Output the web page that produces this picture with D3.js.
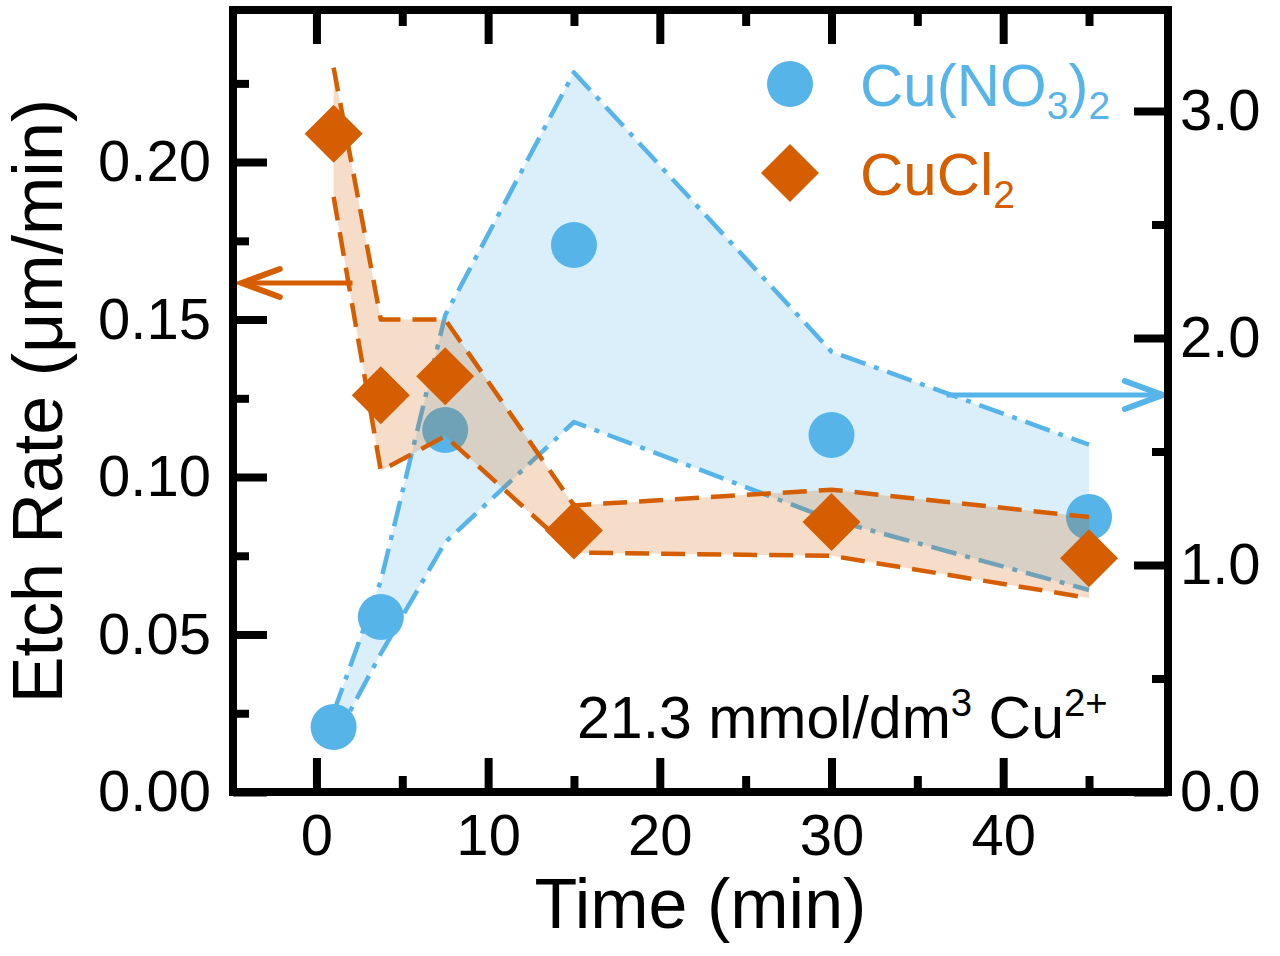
<!DOCTYPE html>
<html>
<head>
<meta charset="utf-8">
<script src="https://cdn.jsdelivr.net/npm/d3@7"></script>
<style>
  body { margin: 0; background: #fff; }
  svg { display: block; font-family: "Liberation Sans", Arial, sans-serif; }
</style>
</head>
<body>
<svg id="chart" width="1280" height="956"></svg>
<script>
// etch time (min)
var times = [1, 3.75, 7.5, 15, 30, 45];

// Cu(NO3)2 -> right axis
var nitrateRate = [0.286, 0.771, 1.595, 2.41, 1.573, 1.211];
var nitrateHigh = [0.35, 0.93, 2.10, 3.17, 1.94, 1.53];
var nitrateLow  = [0.22, 0.61, 1.10, 1.63, 1.20, 0.89];

// CuCl2 -> left axis
var chlorideRate = [0.209, 0.126, 0.132, 0.083, 0.0857, 0.0742];
var chlorideHigh = [0.230, 0.150, 0.150, 0.091, 0.096, 0.0873];
var chlorideLow  = [0.189, 0.102, 0.113, 0.076, 0.075, 0.0616];

var xTicks = [0, 10, 20, 30, 40];
var leftTicks = [0, 0.05, 0.10, 0.15, 0.20];
var rightTicks = [0, 1, 2, 3];

var blue = "#56B4E9", orange = "#D55E00";

var svg = d3.select("#chart"),
    plotL = 233, plotR = 1168, plotT = 10, plotB = 792;

var x = d3.scaleLinear().domain([-4.86, 49.6]).range([plotL, plotR]),
    yL = d3.scaleLinear().domain([0, 0.2483]).range([plotB, plotT]),
    yR = d3.scaleLinear().domain([0, 3.445]).range([plotB, plotT]);

var nitrate = times.map(function(t, i) {
  return {t: t, v: nitrateRate[i], hi: nitrateHigh[i], lo: nitrateLow[i]};
});
var chloride = times.map(function(t, i) {
  return {t: t, v: chlorideRate[i], hi: chlorideHigh[i], lo: chlorideLow[i]};
});

var curve = d3.curveLinear;

function band(g, data, y, color, dash) {
  g.append("path")
      .datum(data)
      .attr("fill", color)
      .attr("fill-opacity", 0.21)
      .attr("d", d3.area().curve(curve)
        .x(function(d) { return x(d.t); })
        .y0(function(d) { return y(d.lo); })
        .y1(function(d) { return y(d.hi); }));
  ["hi", "lo"].forEach(function(k) {
    g.append("path")
        .datum(data)
        .attr("fill", "none")
        .attr("stroke", color)
        .attr("stroke-width", 4.5)
        .attr("stroke-linejoin", "round")
        .attr("stroke-dasharray", dash)
        .attr("d", d3.line().curve(curve)
          .x(function(d) { return x(d.t); })
          .y(function(d) { return y(d[k]); }));
  });
}

var diamond = "M0,-29L29,0L0,29L-29,0Z";

// Cu(NO3)2 band + points
var gb = svg.append("g");
band(gb, nitrate, yR, blue, "26,9,5,9");
gb.selectAll("circle")
  .data(nitrate)
  .enter().append("circle")
    .attr("cx", function(d) { return x(d.t); })
    .attr("cy", function(d) { return yR(d.v); })
    .attr("r", 23)
    .attr("fill", blue);

// CuCl2 band + points
var go = svg.append("g");
band(go, chloride, yL, orange, "24,12");
go.selectAll(".dia")
  .data(chloride)
  .enter().append("path")
    .attr("class", "dia")
    .attr("transform", function(d) { return "translate(" + x(d.t) + "," + yL(d.v) + ")"; })
    .attr("d", diamond)
    .attr("fill", orange);

// axis arrows
function arrow(x0, x1, yy, color) {
  var dir = x1 < x0 ? 1 : -1;
  svg.append("line")
      .attr("x1", x0).attr("x2", x1).attr("y1", yy).attr("y2", yy)
      .attr("stroke", color).attr("stroke-width", 5);
  svg.append("path")
      .attr("d", "M" + (x1 + dir * 38) + "," + (yy - 14) + "L" + x1 + "," + yy + "L" + (x1 + dir * 38) + "," + (yy + 14))
      .attr("fill", "none").attr("stroke", color).attr("stroke-width", 6)
      .attr("stroke-linecap", "round");
}
arrow(x(2.1), x(-4.35), yL(0.1616), orange);
arrow(x(36.7), x(49.3), yR(1.749), blue);

// axes
function styleAxis(g) {
  g.select(".domain").remove();
  g.selectAll(".tick line").attr("stroke", "#000").attr("stroke-width", 8);
  g.selectAll(".tick text").attr("font-size", 58).attr("fill", "#000");
}
var minorX = d3.range(-5, 50, 5).filter(function(v) { return v % 10 !== 0 && v > -4.86; });
var minorL = [0.025, 0.075, 0.125, 0.175, 0.225];
var minorR = [0.5, 1.5, 2.5];

svg.append("g").attr("transform", "translate(0," + plotB + ")")
    .call(d3.axisBottom(x).tickValues(xTicks).tickFormat(d3.format("d")).tickSizeInner(-34).tickSizeOuter(0).tickPadding(22))
    .call(styleAxis);
svg.append("g").attr("transform", "translate(0," + plotB + ")")
    .call(d3.axisBottom(x).tickValues(minorX).tickFormat("").tickSizeInner(-16).tickSizeOuter(0))
    .call(styleAxis);
svg.append("g").attr("transform", "translate(0," + plotT + ")")
    .call(d3.axisTop(x).tickValues(xTicks).tickFormat("").tickSizeInner(-34).tickSizeOuter(0))
    .call(styleAxis);
svg.append("g").attr("transform", "translate(0," + plotT + ")")
    .call(d3.axisTop(x).tickValues(minorX).tickFormat("").tickSizeInner(-16).tickSizeOuter(0))
    .call(styleAxis);

svg.append("g").attr("transform", "translate(" + plotL + ",0)")
    .call(d3.axisLeft(yL).tickValues(leftTicks).tickFormat(d3.format(".2f")).tickSizeInner(-34).tickSizeOuter(0).tickPadding(22))
    .call(styleAxis);
svg.append("g").attr("transform", "translate(" + plotL + ",0)")
    .call(d3.axisLeft(yL).tickValues(minorL).tickFormat("").tickSizeInner(-16).tickSizeOuter(0))
    .call(styleAxis);
svg.append("g").attr("transform", "translate(" + plotR + ",0)")
    .call(d3.axisRight(yR).tickValues(rightTicks).tickFormat(d3.format(".1f")).tickSizeInner(-34).tickSizeOuter(0).tickPadding(12))
    .call(styleAxis);
svg.append("g").attr("transform", "translate(" + plotR + ",0)")
    .call(d3.axisRight(yR).tickValues(minorR).tickFormat("").tickSizeInner(-16).tickSizeOuter(0))
    .call(styleAxis);

svg.append("rect")
    .attr("x", plotL).attr("y", plotT)
    .attr("width", plotR - plotL).attr("height", plotB - plotT)
    .attr("fill", "none").attr("stroke", "#000").attr("stroke-width", 8);

// axis titles
svg.append("text")
    .attr("x", (plotL + plotR) / 2).attr("y", 928)
    .attr("text-anchor", "middle").attr("font-size", 70)
    .text("Time (min)");
svg.append("text")
    .attr("transform", "translate(62," + (plotT + plotB) / 2 + ") rotate(-90)")
    .attr("text-anchor", "middle").attr("font-size", 70)
    .text("Etch Rate (μm/min)");

// legend
var leg = svg.append("g");
leg.append("circle").attr("cx", 790).attr("cy", 84).attr("r", 23).attr("fill", blue);
leg.append("path").attr("transform", "translate(790,173)").attr("d", diamond).attr("fill", orange);
var t1 = leg.append("text").attr("x", 860).attr("y", 106).attr("font-size", 60).attr("fill", blue);
t1.append("tspan").text("Cu(NO");
t1.append("tspan").attr("font-size", "0.65em").attr("dy", 13).text("3");
t1.append("tspan").attr("dy", -13).text(")");
t1.append("tspan").attr("font-size", "0.65em").attr("dy", 13).text("2");
var t2 = leg.append("text").attr("x", 860).attr("y", 195).attr("font-size", 60).attr("fill", orange);
t2.append("tspan").text("CuCl");
t2.append("tspan").attr("font-size", "0.65em").attr("dy", 13).text("2");

// annotation
var ann = svg.append("text").attr("x", 577).attr("y", 738).attr("font-size", 59).attr("fill", "#000");
ann.append("tspan").text("21.3 mmol/dm");
ann.append("tspan").attr("font-size", "0.65em").attr("dy", -22).text("3");
ann.append("tspan").attr("dy", 22).text(" Cu");
ann.append("tspan").attr("font-size", "0.65em").attr("dy", -22).text("2+");
</script>
</body>
</html>
